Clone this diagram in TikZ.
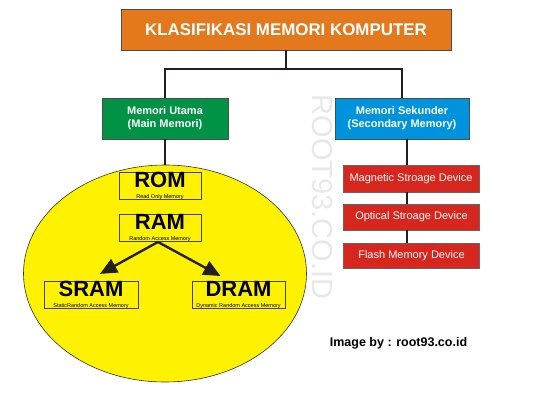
\documentclass[tikz,border=0pt]{standalone}
\usepackage{fontspec}
\setmainfont{Liberation Sans}
\usetikzlibrary{shapes.geometric,arrows.meta}
\definecolor{korange}{HTML}{E4781C}
\definecolor{kgreen}{HTML}{009245}
\definecolor{kblue}{HTML}{0093DD}
\definecolor{kred}{HTML}{D7261E}
\definecolor{kyellow}{HTML}{FFF200}
\definecolor{kline}{HTML}{231F20}
\tikzset{
  catbox/.style={draw=black!70,line width=0.6pt,text=white,inner sep=0pt,align=center,
    font=\fontsize{11}{13}\selectfont\bfseries},
  devbox/.style={draw=black!60,line width=0.6pt,fill=kred,text=white,inner sep=0pt,
    minimum width=136pt,minimum height=26pt,font=\fontsize{11}{13}\selectfont},
  membox/.style={draw=black!75,line width=0.7pt,fill=kyellow,inner sep=0pt,align=center},
  conn/.style={draw=kline,line width=2pt},
  bigarrow/.style={draw=kline,line width=2.4pt,-{Triangle[length=17pt,width=15pt]}}
}
\newcommand{\memlabel}[2]{{\fontsize{22}{17}\selectfont\bfseries #1}\\[-1pt]{\fontsize{5.5}{5}\selectfont #2}}
\begin{document}
\begin{tikzpicture}[x=1pt,y=-1pt]
\useasboundingbox (0,0) rectangle (533,409);
% watermark
\node[rotate=-90,text=black!9,font=\fontsize{29}{29}\selectfont] (wm) at (322,197) {ROOT93.CO.ID};
% title
\node[catbox,fill=korange,minimum width=330pt,minimum height=41pt,
  font=\fontsize{16.9}{18}\selectfont\bfseries] (title) at (286,29.5) {KLASIFIKASI MEMORI KOMPUTER};
\node[catbox,fill=kgreen,minimum width=126pt,minimum height=41pt] (utama) at (165,118.5) {Memori Utama\\(Main Memori)};
\node[catbox,fill=kblue,minimum width=134pt,minimum height=41pt] (sekunder) at (402,118.5) {Memori Sekunder\\(Secondary Memory)};
\coordinate (jn) at (286,69);
\draw[conn] (title.south) -- (jn);
\draw[conn] (utama.north) |- (jn) -| (sekunder.north);
% ellipse
\node[ellipse,draw=black!80,line width=0.6pt,fill=kyellow,minimum width=283pt,minimum height=217pt,inner sep=0pt] (ell) at (165,273.5) {};
\draw[conn] (utama.south) -- (ell.north);
\node[membox,minimum width=82pt,minimum height=26pt] (rom) at (160,186) {\memlabel{ROM}{Read Only Memory}};
\node[membox,minimum width=82pt,minimum height=26pt] (ram) at (160,228) {\memlabel{RAM}{Random Access Memory}};
\node[membox,minimum width=94pt,minimum height=26pt] (sram) at (91,295) {\memlabel{SRAM}{StaticRandom Access Memory}};
\node[membox,minimum width=93pt,minimum height=26pt] (dram) at (238.5,295) {\memlabel{DRAM}{Dynamic Random Access Memory}};
\draw[bigarrow] ([xshift=-2pt]ram.south) -- ([xshift=9pt,yshift=7pt]sram.north);
\draw[bigarrow] ([xshift=-2pt]ram.south) -- ([xshift=-18pt,yshift=5pt]dram.north);
% secondary devices
\node[devbox,minimum height=27pt] (mag) at (411,178.5) {Magnetic Stroage Device};
\node[devbox] (opt) at (411.5,217) {Optical Stroage Device};
\node[devbox,minimum height=25pt] (flash) at (411.5,255.5) {Flash Memory Device};
\draw[conn] ([xshift=5pt]sekunder.south) -- ([xshift=-4pt]mag.north);
\draw[conn] ([xshift=-4pt]mag.south) -- ([xshift=-4.5pt]opt.north);
\draw[conn] ([xshift=-4.5pt]opt.south) -- ([xshift=-4.5pt]flash.north);
% credit
\node[font=\fontsize{12.5}{14}\selectfont\bfseries,inner sep=0pt] (credit) at (398.5,343) {Image by : root93.co.id};
\end{tikzpicture}
\end{document}
